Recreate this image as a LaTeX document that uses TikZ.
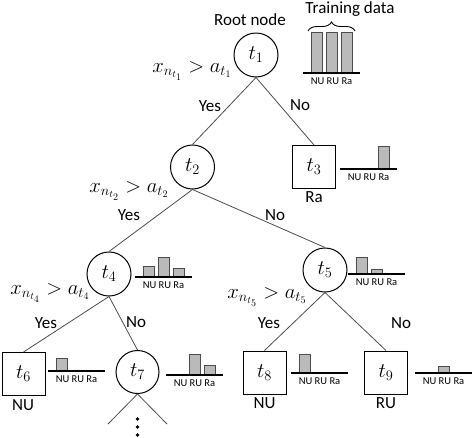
\documentclass[tikz,border=0pt]{standalone}
\usepackage{fontspec}
\setmainfont{Carlito}
\usetikzlibrary{decorations.pathreplacing}
\tikzset{
  txt/.style={inner sep=0pt, font=\fontsize{17}{20}\selectfont},
  mlab/.style={inner sep=0pt, font=\fontsize{20.5}{24}\selectfont},
  catlabel/.style={inner sep=0pt, font=\fontsize{10.5}{12}\selectfont},
  inode/.style={circle, draw=black, line width=1pt, minimum size=44pt, inner sep=0pt, font=\fontsize{21}{24}\selectfont},
  leaf/.style={rectangle, draw=black, line width=1pt, minimum size=43pt, inner sep=0pt, font=\fontsize{21}{24}\selectfont},
  conn/.style={draw=black!70, line width=0.8pt},
  barbox/.style={draw=black!70, fill=black!27, line width=0.9pt},
  basebar/.style={draw=black, line width=2pt},
}
\newcommand{\chart}[3]{%
  \foreach \s/\h in {#3} {\draw[barbox] ({#1+8+15*(\s-1)},#2) rectangle ++(11,-\h);}
  \draw[basebar] (#1,#2) -- ++(57,0);
  \node[catlabel] at ({#1+28.5},{#2+8.5}) {NU RU Ra};
}
\begin{document}
\begin{tikzpicture}[x=1pt,y=-1pt]
\useasboundingbox (0,0) rectangle (474,437);
% nodes
\node[inode] (t1) at (256,55) {$t_1$};
\node[inode] (t2) at (192.5,167) {$t_2$};
\node[leaf]  (t3) at (314,167) {$t_3$};
\node[inode] (t4) at (109,274) {$t_4$};
\node[inode] (t5) at (325,270) {$t_5$};
\node[leaf]  (t6) at (23.5,374) {$t_6$};
\node[inode, minimum size=43pt] (t7) at (137.5,372) {$t_7$};
\node[leaf]  (t8) at (264.5,372.5) {$t_8$};
\node[leaf]  (t9) at (386,372.5) {$t_9$};
% connectors
\draw[conn] (t1.south) -- (t2.north);
\draw[conn] (t1.south) -- (t3.north);
\draw[conn] (t2.south) -- (t4.north);
\draw[conn] (t2.south) -- (t5.north);
\draw[conn] (t4.south) -- (t6.north);
\draw[conn] (t4.south) -- (t7.north);
\draw[conn] (t5.south) -- (t8.north);
\draw[conn] (t5.south) -- (t9.north);
\coordinate (e1) at (108,424);
\coordinate (e2) at (167,424);
\draw[conn] (t7.south) -- (e1);
\draw[conn] (t7.south) -- (e2);
% dots
\foreach \yy [count=\i] in {419,427,435} {\fill[black] (137.5,\yy) circle (1.8);}
% texts
\node[txt] (root) at (250,20) {Root node};
\node[txt] (train) at (350,9) {Training data};
\node[mlab] (c1) at (192,71) {$x_{n_{t_1}} > a_{t_1}$};
\node[mlab] (c2) at (129,191) {$x_{n_{t_2}} > a_{t_2}$};
\node[mlab] (c4) at (50,293) {$x_{n_{t_4}} > a_{t_4}$};
\node[mlab] (c5) at (267,297) {$x_{n_{t_5}} > a_{t_5}$};
\node[txt] (y1) at (210,106) {Yes};
\node[txt] (n1) at (300,105) {No};
\node[txt] (y2) at (129,215) {Yes};
\node[txt] (n2) at (275,215) {No};
\node[txt] (y4) at (46,323) {Yes};
\node[txt] (n4) at (136,322) {No};
\node[txt] (y5) at (269,323) {Yes};
\node[txt] (n5) at (401,323) {No};
\node[txt] (l3) at (314,197) {Ra};
\node[txt] (l6) at (23,405) {NU};
\node[txt] (l8) at (264.5,403) {NU};
\node[txt] (l9) at (386,403) {RU};
% brace
\draw[line width=0.9pt, decorate, decoration={brace, amplitude=9pt}] (308,31) -- (355,31);
% charts
\chart{303}{73}{1/41,2/41,3/41}
\chart{340}{169}{3/23}
\chart{135}{277}{1/11,2/20,3/9}
\chart{348}{274}{1/17,2/5}
\chart{48}{371}{1/13}
\chart{166}{375}{2/21,3/10}
\chart{291}{373}{1/19}
\chart{415}{373}{2/7}
\end{tikzpicture}
\end{document}
